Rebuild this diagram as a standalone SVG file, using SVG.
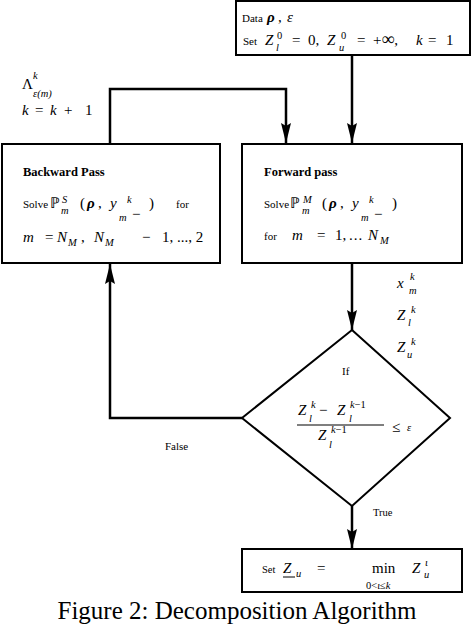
<svg xmlns="http://www.w3.org/2000/svg" width="474" height="626" viewBox="0 0 474 626">
<style>
text{font-family:"Liberation Serif","Times New Roman",serif;fill:#000}
.box{fill:#fff;stroke:#000;stroke-width:2}
.ln{fill:none;stroke:#000;stroke-width:2.5}
.t{font-size:11px}
.b{font-size:12.5px;font-weight:bold}
.m{font-size:15px;font-style:italic}
.r{font-size:15px}
.sm{font-size:10.5px;font-style:italic}
.sr{font-size:10.5px}
.cap{font-size:25px}
</style>
<defs>
<marker id="ah" viewBox="0 0 20 10" refX="20" refY="5" markerWidth="20" markerHeight="10" orient="auto" markerUnits="userSpaceOnUse">
<path d="M0,0 L20,5 L0,10 L3,5 z" fill="#000"/>
</marker>
</defs>
<rect width="474" height="626" fill="#fff"/>
<g id="connectors">
<path class="ln" d="M352,55 V143" marker-end="url(#ah)"/>
<path class="ln" d="M110,144 V89 H286 V143" marker-end="url(#ah)"/>
<path class="ln" d="M352,263 V330" marker-end="url(#ah)"/>
<path class="ln" d="M242,418 H110 V264" marker-end="url(#ah)"/>
<path class="ln" d="M352,506 V549" marker-end="url(#ah)"/>
</g>
<g id="start">
<rect class="box" x="236" y="1" width="234" height="54"/>
<text x="242" y="22" class="t">Data</text>
<text x="267" y="22" class="m" font-weight="bold" font-size="13">ρ</text>
<text x="278" y="22" class="r" font-size="13">,</text>
<text x="287" y="22" class="m" font-size="13">ε</text>
<text x="243" y="45" class="t">Set</text>
<text x="265" y="45" class="m">Z</text>
<text x="277" y="39" class="sr">0</text>
<text x="276" y="51" class="sm">l</text>
<text x="292" y="45" class="r">=</text>
<text x="308" y="45" class="r">0,</text>
<text x="327" y="45" class="m">Z</text>
<text x="341" y="39" class="sr">0</text>
<text x="339" y="51" class="sm">u</text>
<text x="357" y="45" class="r">=</text>
<text x="373" y="45" class="r">+<tspan font-size="18">∞</tspan>,</text>
<text x="416" y="45" class="m">k</text>
<text x="428" y="45" class="r">=</text>
<text x="446" y="45" class="r">1</text>
</g>
<g id="update-label">
<text x="22" y="89" class="r">Λ</text>
<text x="33" y="79" class="sm">k</text>
<text x="33" y="97" class="sm">ε(m)</text>
<text x="22" y="115" class="m">k</text>
<text x="35" y="115" class="r">=</text>
<text x="50" y="115" class="m">k</text>
<text x="64" y="115" class="r">+</text>
<text x="85" y="115" class="r">1</text>
</g>
<g id="backward">
<rect class="box" x="2" y="144" width="218" height="119"/>
<text x="23" y="176" class="b">Backward Pass</text>
<text x="23" y="208" class="t">Solve</text>
<text x="50" y="208" class="r">ℙ</text>
<text x="62" y="203" class="sm">S</text>
<text x="61" y="214" class="sm">m</text>
<text x="80" y="208" class="r">(</text>
<text x="87" y="208" class="m" font-weight="bold">ρ</text>
<text x="98" y="208" class="r">,</text>
<text x="110" y="208" class="m">y</text>
<text x="127" y="203" class="sm">k</text>
<text x="119" y="221" class="sm">m</text>
<text x="132" y="219" class="r">−</text>
<text x="149" y="208" class="r">)</text>
<text x="176" y="208" class="t">for</text>
<text x="23" y="242" class="m">m</text>
<text x="45" y="242" class="r">=</text>
<text x="57" y="242" class="m">N</text>
<text x="68" y="246" class="sm">M</text>
<text x="81" y="242" class="r">,</text>
<text x="94" y="242" class="m">N</text>
<text x="105" y="246" class="sm">M</text>
<text x="142" y="242" class="r">−</text>
<text x="162" y="242" class="r">1, ..., 2</text>
</g>
<g id="forward">
<rect class="box" x="242" y="144" width="220" height="119"/>
<text x="264" y="176" class="b">Forward pass</text>
<text x="264" y="208" class="t">Solve</text>
<text x="290" y="208" class="r">ℙ</text>
<text x="303" y="203" class="sm">M</text>
<text x="302" y="214" class="sm">m</text>
<text x="322" y="208" class="r">(</text>
<text x="329" y="208" class="m" font-weight="bold">ρ</text>
<text x="340" y="208" class="r">,</text>
<text x="352" y="208" class="m">y</text>
<text x="369" y="203" class="sm">k</text>
<text x="361" y="221" class="sm">m</text>
<text x="374" y="219" class="r">−</text>
<text x="392" y="208" class="r">)</text>
<text x="264" y="240" class="t">for</text>
<text x="292" y="240" class="m">m</text>
<text x="317" y="240" class="r">=</text>
<text x="335" y="240" class="r">1,</text>
<text x="349" y="240" class="r" letter-spacing="1">...</text>
<text x="368" y="240" class="m">N</text>
<text x="380" y="244" class="sm">M</text>
</g>
<g id="outputs-label">
<text x="397" y="288" class="m">x</text>
<text x="410" y="280" class="sm">k</text>
<text x="409" y="294" class="sm">m</text>
<text x="397" y="320" class="m">Z</text>
<text x="411" y="313" class="sm">k</text>
<text x="408" y="326" class="sm">l</text>
<text x="397" y="352" class="m">Z</text>
<text x="411" y="345" class="sm">k</text>
<text x="407" y="358" class="sm">u</text>
</g>
<g id="decision">
<polygon points="352,330 450,418 352,506 242,418" fill="#fff" stroke="#000" stroke-width="2"/>
<text x="342" y="375" class="t">If</text>
<text x="298" y="415" class="m">Z</text>
<text x="311" y="408" class="sm">k</text>
<text x="309" y="422" class="sm">l</text>
<text x="319" y="415" class="r">−</text>
<text x="337" y="415" class="m">Z</text>
<text x="350" y="408" class="sm">k<tspan font-style="normal">−1</tspan></text>
<text x="349" y="422" class="sm">l</text>
<line x1="297" y1="425" x2="384" y2="425" stroke="#000" stroke-width="1.2"/>
<text x="318" y="440" class="m">Z</text>
<text x="331" y="433" class="sm">k<tspan font-style="normal">−1</tspan></text>
<text x="329" y="448" class="sm">l</text>
<text x="392" y="432" class="r">≤</text>
<text x="407" y="431" class="sm">ε</text>
</g>
<g id="false-label">
<text x="165" y="450" class="t">False</text>
</g>
<g id="true-label">
<text x="373" y="516" class="sr">True</text>
</g>
<g id="result">
<rect class="box" x="242" y="549" width="220" height="43"/>
<text x="262" y="573" class="sr">Set</text>
<text x="283" y="573" class="m">Z</text>
<line x1="283" y1="577" x2="295" y2="577" stroke="#000" stroke-width="1"/>
<text x="296" y="577" class="sm">u</text>
<text x="317" y="573" class="r">=</text>
<text x="372" y="573" class="r">min</text>
<text x="412" y="573" class="m">Z</text>
<text x="425" y="566" class="sm">ι</text>
<text x="424" y="578" class="sm">u</text>
<text x="366" y="589" class="sr">0&lt;<tspan font-style="italic">ι</tspan>≤<tspan font-style="italic">k</tspan></text>
</g>
<text x="237" y="619" class="cap" text-anchor="middle">Figure 2: Decomposition Algorithm</text>
</svg>
